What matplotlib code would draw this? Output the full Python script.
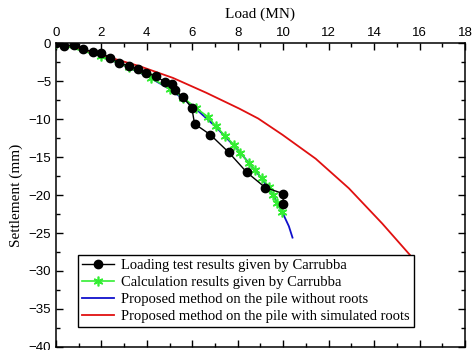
import matplotlib
matplotlib.use("Agg")
from matplotlib import pyplot as plt
from matplotlib.ticker import MultipleLocator

plt.rcParams["font.family"] = "Liberation Sans"
plt.rcParams["figure.dpi"] = 100

# loading test (Carrubba)
test_load = [0.0, 0.37, 0.8, 1.21, 1.63, 2.0, 2.4, 2.78, 3.21, 3.61, 3.98, 4.39,
             4.8, 5.1, 5.22, 5.6, 5.98, 6.1, 6.8, 7.6, 8.4, 9.21, 10.0, 10.0]
test_settle = [0.0, -0.3, -0.2, -0.78, -1.09, -1.3, -1.9, -2.6, -2.96, -3.36, -3.9, -4.3,
               -5.1, -5.3, -6.1, -7.1, -8.5, -10.6, -12.05, -14.35, -17.0, -19.0, -19.8, -21.2]

# calculation by Carrubba
calc_load = [0.0, 2.0, 3.2, 4.2, 5.0, 5.6, 6.15, 6.7, 7.05, 7.45, 7.85, 8.12,
             8.48, 8.78, 9.06, 9.39, 9.53, 9.72, 9.95]
calc_settle = [0.0, -1.7, -3.15, -4.55, -6.0, -7.15, -8.5, -9.7, -10.95, -12.2, -13.4, -14.45,
               -15.75, -16.7, -17.8, -18.9, -20.0, -21.0, -22.2]

# proposed method, pile without roots
bare_load = [0.0, 1.0, 2.0, 3.0, 4.0, 5.0, 6.0, 7.0, 8.0, 9.0, 9.5, 10.0, 10.25, 10.41]
bare_settle = [0.0, -0.75, -1.7, -2.9, -4.3, -6.0, -8.2, -10.9, -14.0, -17.6, -19.7, -22.5, -24.1, -25.6]

# proposed method, pile with simulated roots
root_load = [0.0, 1.0, 2.19, 3.68, 5.15, 6.61, 8.07, 8.9, 9.97, 11.43, 12.89, 14.36, 15.64]
root_settle = [0.0, -0.7, -1.7, -3.0, -4.55, -6.5, -8.6, -9.9, -12.05, -15.2, -19.1, -23.75, -28.1]

fig = plt.figure(figsize=(4.74, 3.5))
ax = fig.add_axes([0.118, 0.009, 0.863, 0.867])

ax.plot(calc_load, calc_settle, color="#33ee33", lw=1.2, marker=(6, 2, 0),
        markersize=7, markeredgewidth=1.2, label="Calculation results given by Carrubba", zorder=3)
ax.plot(bare_load, bare_settle, color="#1010cc", lw=1.3,
        label="Proposed method on the pile without roots", zorder=2)
ax.plot(root_load, root_settle, color="#e01010", lw=1.3,
        label="Proposed method on the pile with simulated roots", zorder=2)
ax.plot(test_load, test_settle, color="black", lw=1.0, marker="o", markersize=6,
        label="Loading test results given by Carrubba", zorder=4)

ax.set_xlim(0, 18)
ax.set_ylim(-40, 0)
ax.xaxis.set_major_locator(MultipleLocator(2))
ax.xaxis.set_minor_locator(MultipleLocator(1))
ax.yaxis.set_major_locator(MultipleLocator(5))
ax.yaxis.set_minor_locator(MultipleLocator(2.5))
ax.xaxis.tick_top()
ax.xaxis.set_label_position("top")
ax.tick_params(which="both", direction="in", top=True, bottom=True, left=True, right=True,
               labeltop=True, labelbottom=False, labelsize=9.5, width=1)
ax.tick_params(which="major", length=5)
ax.tick_params(which="minor", length=3)
for s in ax.spines.values():
    s.set_linewidth(1.1)

ax.set_xlabel("Load (MN)", family="Liberation Serif", fontsize=11, labelpad=6)
ax.set_ylabel("Settlement (mm)", family="Liberation Serif", fontsize=11, labelpad=4)

handles, labels = ax.get_legend_handles_labels()
order = [3, 0, 1, 2]
leg = ax.legend([handles[i] for i in order], [labels[i] for i in order],
                loc="lower left", bbox_to_anchor=(0.035, 0.04), fancybox=False,
                edgecolor="black", framealpha=1, handlelength=2.2, handletextpad=0.5,
                borderpad=0.3, labelspacing=0.25,
                prop={"family": "Liberation Serif", "size": 10.5})
leg.get_frame().set_linewidth(1.0)

fig.savefig("out.png", dpi=100)
